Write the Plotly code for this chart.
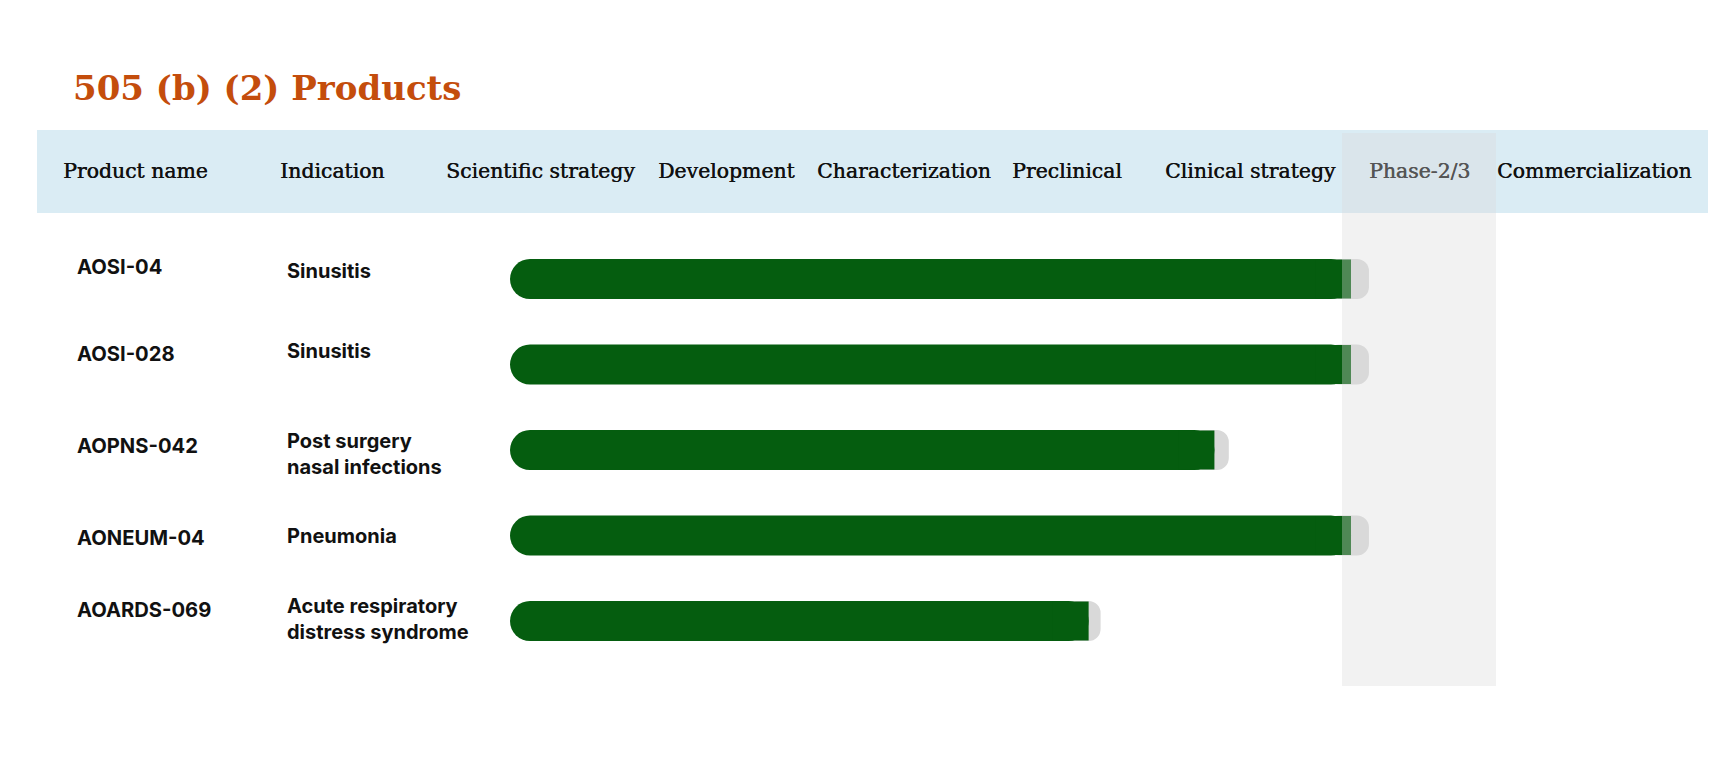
import plotly.graph_objects as go

# ---------------- data ----------------
products = ["AOSI-04", "AOSI-028", "AOPNS-042", "AONEUM-04", "AOARDS-069"]
indications = ["Sinusitis", "Sinusitis", "Post surgery<br>nasal infections",
               "Pneumonia", "Acute respiratory<br>distress syndrome"]
progress = [70.2, 70.2, 58.8, 70.2, 48.3]      # % of pipeline track completed
track_end = [71.7, 71.7, 60.0, 71.7, 49.3]     # end of the grey track (%)
stages = ["Product name", "Indication", "Scientific strategy", "Development",
          "Characterization", "Preclinical", "Clinical strategy", "Phase-2/3",
          "Commercialization"]
title = "505 (b) (2) Products"

# ---------------- style / layout ----------------
W, H = 1712, 753
OFF = 8  # body margin of the html page


def px(x):
    return (x - OFF) / W


def py(y):
    return 1 - (y - OFF) / H


GREEN = "#055D0F"
TRACK = "#D9D9D9"
HEADER_BG = "#DAECF4"
TITLE_C = "#C44D0C"

stage_x = [61, 278, 444, 656, 815, 1010, 1163, 1367, 1495]
prod_shift = [13, 11, 5, -2, 12]
ind_shift = [8, 14, -4, 0, 2]
SQ = 3.0   # length (in axis units) of the square-ended cover at the bar tip
BW = 0.468

fig = go.Figure()
# grey track tip (rounded), its left part hidden under the green bar
fig.add_trace(go.Bar(
    y=products, x=[t - (p - SQ + 1) for t, p in zip(track_end, progress)],
    base=[p - SQ + 1 for p in progress],
    orientation="h", width=BW,
    marker=dict(color=TRACK, cornerradius=12, line=dict(width=0)),
    hoverinfo="skip"))
# green progress capsule (round left end)
fig.add_trace(go.Bar(
    y=products, x=progress, base=[0] * len(progress),
    orientation="h", width=BW,
    marker=dict(color=GREEN, cornerradius=20, line=dict(width=0)),
    hoverinfo="skip"))
# square right end of the green bar
fig.add_trace(go.Bar(
    y=products, x=[SQ] * len(progress), base=[p - SQ for p in progress],
    orientation="h", width=BW - 0.012,
    marker=dict(color=GREEN, line=dict(width=0)),
    hoverinfo="skip"))

shapes = [
    dict(type="rect", xref="paper", yref="paper", layer="below",
         x0=px(37), x1=px(1708), y0=py(213), y1=py(130),
         fillcolor=HEADER_BG, line=dict(width=0)),
    dict(type="rect", xref="paper", yref="paper", layer="above",
         x0=px(1342), x1=px(1496), y0=py(686), y1=py(133),
         fillcolor="rgba(218,218,218,0.35)", line=dict(width=0)),
]

annotations = [
    dict(text=title, xref="paper", yref="paper", x=px(71), y=py(88),
         xanchor="left", yanchor="middle", showarrow=False,
         font=dict(family="DejaVu Serif", size=34, color=TITLE_C, weight="bold")),
]
for s, sx in zip(stages, stage_x):
    col = "#555555" if s == "Phase-2/3" else "#111111"
    annotations.append(dict(
        text=s, xref="paper", yref="paper", x=px(sx), y=py(171),
        xanchor="left", yanchor="middle", showarrow=False,
        font=dict(family="DejaVu Serif", size=20.4, color=col,
                  shadow="0.45px 0px 0px " + col)))
for p, ind, s1, s2 in zip(products, indications, prod_shift, ind_shift):
    annotations.append(dict(
        text=p, xref="paper", yref="y", x=px(75), y=p, yshift=s1,
        xanchor="left", yanchor="middle", showarrow=False, align="left",
        font=dict(family="Inter", size=20.2, color="#111111", weight=700)))
    annotations.append(dict(
        text=ind, xref="paper", yref="y", x=px(285), y=p, yshift=s2,
        xanchor="left", yanchor="middle", showarrow=False, align="left",
        font=dict(family="Inter", size=20.0, color="#111111", weight=700)))

fig.update_layout(
    width=W, height=H, margin=dict(l=0, r=0, t=0, b=0, pad=0),
    paper_bgcolor="white", plot_bgcolor="white",
    barmode="overlay", showlegend=False,
    xaxis=dict(domain=[px(510), px(1708)], range=[0, 100], visible=False,
               fixedrange=True),
    yaxis=dict(domain=[0, 1], type="category", categoryorder="array",
               categoryarray=products, range=[5.637, -3.170], visible=False,
               fixedrange=True),
    shapes=shapes, annotations=annotations,
)

fig.write_html("out.html")
